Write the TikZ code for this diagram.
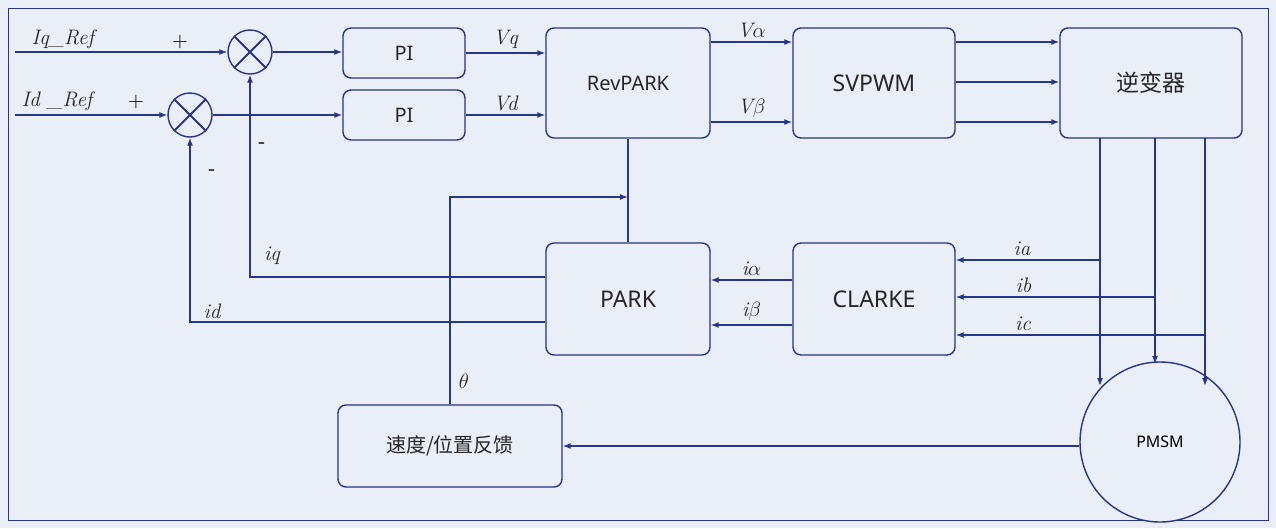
\documentclass[tikz,border=0pt]{standalone}
\usepackage{fontspec}
\newfontfamily\cjk{Noto Sans CJK SC}
\newfontfamily\sans{Noto Sans}
\usetikzlibrary{arrows.meta,calc}
\definecolor{ln}{HTML}{27358A}
\definecolor{bg}{HTML}{E9EEF7}
\begin{document}
\begin{tikzpicture}[x=1pt,y=-1pt,
  box/.style={draw=ln,line width=1.4pt,rounded corners=8pt,fill=bg,font=\sans\fontsize{20}{22}\selectfont,text=black!85},
  sumc/.style={draw=ln,line width=1.4pt,circle,minimum size=44pt,inner sep=0pt,fill=bg},
  w/.style={draw=ln,line width=1.3pt},
  a/.style={w,-{Latex[length=8pt,width=6pt]}},
  lab/.style={font=\itshape\fontsize{21}{23}\selectfont,text=black!85},
  sgn/.style={font=\bfseries\fontsize{18}{20}\selectfont,text=black!85}]
\useasboundingbox (0,0) rectangle (1276,528);
\fill[bg] (0,0) rectangle (1276,528);
\draw[ln,line width=1pt] (8,8) rectangle (1268,520);
% blocks
\node[box,minimum width=122pt,minimum height=50pt] (pi1) at (404,53) {PI};
\node[box,minimum width=122pt,minimum height=50pt] (pi2) at (404,115) {PI};
\node[box,minimum width=164pt,minimum height=110pt] (rp) at (628,83) {RevPARK};
\node[box,minimum width=162pt,minimum height=110pt,font=\sans\fontsize{23}{25}\selectfont] (sv) at (874,83) {SVPWM};
\node[box,minimum width=182pt,minimum height=110pt,font=\cjk\fontsize{23}{25}\selectfont] (inv) at (1151,83) {逆变器};
\node[box,minimum width=164pt,minimum height=112pt,font=\sans\fontsize{23}{25}\selectfont] (pk) at (628,299) {PARK};
\node[box,minimum width=162pt,minimum height=112pt,font=\sans\fontsize{23}{25}\selectfont] (cl) at (874,299) {CLARKE};
\node[box,minimum width=224pt,minimum height=82pt,font=\cjk\fontsize{20}{22}\selectfont] (fb) at (450,446) {速度/位置反馈};
\node[draw=ln,line width=1.4pt,circle,minimum size=160pt,fill=bg,font=\sans\fontsize{16}{18}\selectfont] (pm) at (1160,442) {PMSM};
\node[sumc] (s1) at (250,52) {};
\node[sumc] (s2) at (190,115) {};
\foreach \s in {s1,s2}{\draw[ln,line width=1.8pt] (\s.45) -- (\s.225) (\s.135) -- (\s.315);}
% inputs
\coordinate (iq0) at (15,52);
\coordinate (id0) at (15,115);
\draw[a] (iq0) -- (s1.west);
\draw[a] (id0) -- (s2.west);
\node[lab,anchor=south west] (tiq) at (28,52) {Iq\_Ref};
\node[lab,anchor=south west] (tid) at (18,114) {Id \_Ref};
\node[sgn] (p1) at (180,42) {+};
\node[sgn] (p2) at (136,102) {+};
\draw[a] (s1.east) -- (s1.east -| pi1.west);
\draw[a] (s2.east) -- (s2.east -| pi2.west);
\draw[a] (pi1.east) -- (pi1.east -| rp.west) node[lab,midway,above] {Vq};
\draw[a] (pi2.east) -- (pi2.east -| rp.west) node[lab,midway,above] {Vd};
\draw[a] ($(rp.east)+(0,-41)$) -- ($(sv.west)+(0,-41)$) node[lab,midway,above] {V$\alpha$};
\draw[a] ($(rp.east)+(0,39)$) -- ($(sv.west)+(0,39)$) node[lab,midway,above] {V$\beta$};
\foreach \d in {-41,-1,39}{\draw[a] ($(sv.east)+(0,\d)$) -- ($(inv.west)+(0,\d)$);}
% inverter to motor
\coordinate (xa) at (1100,138);
\coordinate (xb) at (1155,138);
\coordinate (xc) at (1205,138);
\draw[a] (xa) -- (1100,386);
\draw[a] (xb) -- (1155,364);
\draw[a] (xc) -- (1205,386);
\draw[a] (1100,260) -- (cl.east |- 0,260) node[lab,pos=0.54,above] {ia};
\draw[a] (1155,297) -- (cl.east |- 0,297) node[lab,pos=0.66,above] {ib};
\draw[a] (1205,335) -- (cl.east |- 0,335) node[lab,pos=0.73,above] {ic};
% clarke to park
\draw[a] (cl.west |- 0,280) -- (pk.east |- 0,280) node[lab,midway,above] {i$\alpha$};
\draw[a] (cl.west |- 0,325) -- (pk.east |- 0,325) node[lab,midway,above] {i$\beta$};
% feedback
\draw[a] (pk.west |- 0,277) -- (250,277) -- (s1.south);
\draw[a] (pk.west |- 0,322) -- (190,322) -- (s2.south);
\node[lab] (tq) at (272,256) {iq};
\node[lab] (tdd) at (212,311) {id};
\node[sgn] (m1) at (262,145) {-};
\node[sgn] (m2) at (212,172) {-};
% theta
\draw[w] (rp.south) -- (pk.north);
\draw[a] (fb.north) -- (450,197) -- (rp.south |- 0,197);
\node[lab] (th) at (464,381) {$\theta$};
\draw[a] (pm.west |- 0,446) -- (fb.east |- 0,446);
\end{tikzpicture}
\end{document}
